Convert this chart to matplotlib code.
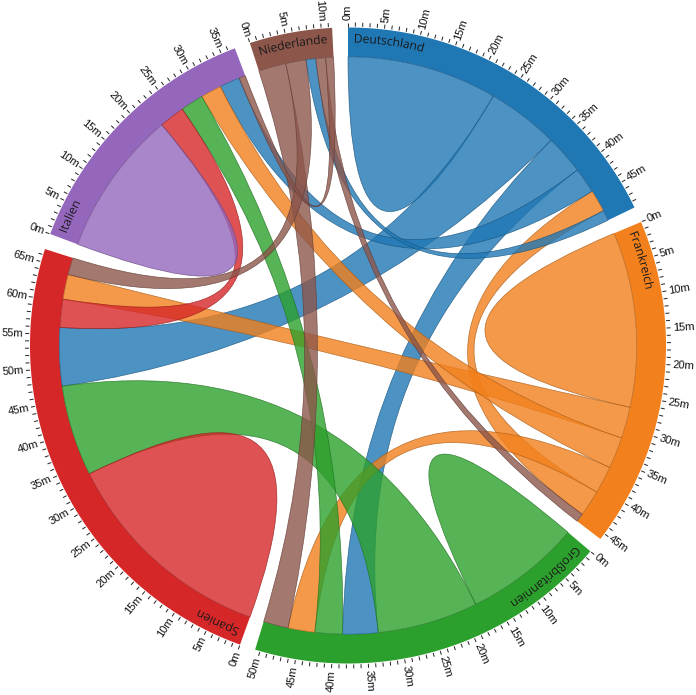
import numpy as np
import matplotlib
matplotlib.use("Agg")
import matplotlib.pyplot as plt
from matplotlib.path import Path
from matplotlib.patches import PathPatch
from matplotlib.collections import LineCollection
from matplotlib.textpath import TextPath
from matplotlib.font_manager import FontProperties
from matplotlib.colors import to_rgb

countries = ["Deutschland", "Frankreich", "Großbritannien", "Spanien", "Italien", "Niederlande"]
colors = ["#1f77b4", "#f2801c", "#2ca02c", "#d62728", "#9467bd", "#8c564b"]

# Werte in Millionen, Reihenfolge der Spalten wie countries
deutschland = [23.0, 3.4, 6.0, 11.0, 3.9, 1.6]
frankreich = [4.0, 26.8, 4.2, 4.8, 4.8, 1.3]
grossbritannien = [5.4, 4.1, 17.8, 15.4, 4.2, 3.8]
spanien = [8.9, 3.8, 13.9, 33.3, 4.3, 2.6]
italien = [3.1, 3.2, 3.5, 3.9, 22.3, 1.0]
niederlande = [1.5, 1.5, 4.2, 3.1, 1.2, 0.0]

matrix = np.array([deutschland, frankreich, grossbritannien, spanien, italien, niederlande])

R_OUT = 318.0
R_IN = 288.7
PAD = 0.05
CX, CY = 348.0, 345.5


def pt(r, a):
    return r * np.sin(a), r * np.cos(a)


def arc_pts(r, a0, a1):
    m = max(int(abs(a1 - a0) / 0.005), 2)
    t = np.linspace(a0, a1, m)
    return np.column_stack([r * np.sin(t), r * np.cos(t)])


def layout(mat):
    """Winkel der Gruppen und Untergruppen wie d3.layout.chord (absteigend sortiert)."""
    n = len(mat)
    k = (2 * np.pi - n * PAD) / mat.sum()
    sub, groups = {}, []
    x = 0.0
    for i in range(n):
        x0 = x
        for j in sorted(range(n), key=lambda j: -mat[i][j]):
            a0 = x
            x += mat[i][j] * k
            sub[(i, j)] = (a0, x)
        groups.append((x0, x))
        x += PAD
    return k, groups, sub


def ribbon(s, t, r):
    p = arc_pts(r, *s)
    verts = list(map(tuple, p))
    codes = [Path.MOVETO] + [Path.LINETO] * (len(p) - 1)
    if s == t:
        verts += [(0, 0), tuple(p[0])]
        codes += [Path.CURVE3] * 2
    else:
        q = arc_pts(r, *t)
        verts += [(0, 0), tuple(q[0])]
        codes += [Path.CURVE3] * 2
        verts += list(map(tuple, q[1:]))
        codes += [Path.LINETO] * (len(q) - 1)
        verts += [(0, 0), tuple(p[0])]
        codes += [Path.CURVE3] * 2
    verts.append(tuple(p[0]))
    codes.append(Path.CLOSEPOLY)
    return Path(verts, codes)


def darker(c, f=0.7):
    return tuple(v * f for v in to_rgb(c))


def curved_label(ax, text, a_start, r_base, size):
    tp = TextPath((0, 0), text, size=size, prop=FontProperties(family="Open Sans"))
    v = tp.vertices
    theta = a_start + v[:, 0] / r_base
    rad = r_base + v[:, 1]
    xy = np.column_stack([rad * np.sin(theta), rad * np.cos(theta)])
    ax.add_patch(PathPatch(Path(xy, tp.codes), facecolor="#1a1a1a", edgecolor="none", lw=0, zorder=5))


k, groups, sub = layout(matrix)
n = len(countries)

fig = plt.figure(figsize=(6.96, 6.95), dpi=100)
ax = fig.add_axes([0, 0, 1, 1])
ax.set_xlim(-CX, 696 - CX)
ax.set_ylim(-(695 - CY), CY)
ax.axis("off")

# Gruppenbögen
for i, (a0, a1) in enumerate(groups):
    outer = arc_pts(R_OUT, a0, a1)
    inner = arc_pts(R_IN, a1, a0)
    poly = np.vstack([outer, inner, outer[:1]])
    ax.add_patch(PathPatch(Path(poly, closed=True), facecolor=colors[i], edgecolor="none", zorder=2))

# Ticks und Beschriftung
segs = []
for i, (a0, a1) in enumerate(groups):
    for v in np.arange(0, matrix[i].sum(), 1):
        a = a0 + v * k
        segs.append([pt(R_OUT + 1, a), pt(R_OUT + 5, a)])
        if int(v) % 5 == 0:
            deg = np.degrees(a)
            x, y = pt(R_OUT + 7, a)
            if a > np.pi:
                ax.text(x, y, f"{int(v)}m", rotation=270 - deg, ha="right", va="center",
                        rotation_mode="anchor", fontsize=8, family="Liberation Sans", color="#111")
            else:
                ax.text(x, y, f"{int(v)}m", rotation=90 - deg, ha="left", va="center",
                        rotation_mode="anchor", fontsize=8, family="Liberation Sans", color="#111")
ax.add_collection(LineCollection(segs, colors="#222", linewidths=0.7, zorder=2))

# Sehnen
for i in range(n):
    for j in range(i, n):
        if matrix[i][j] == 0 and matrix[j][i] == 0:
            continue
        ci = i if matrix[i][j] > matrix[j][i] else j
        path = ribbon(sub[(i, j)], sub[(j, i)], R_IN)
        ax.add_patch(PathPatch(path, facecolor=to_rgb(colors[ci]) + (0.8,),
                               edgecolor=darker(colors[ci]) + (0.8,), lw=0.5, zorder=3))

# Gruppennamen entlang des Bogens
for i, (a0, a1) in enumerate(groups):
    curved_label(ax, countries[i], a0 + 6 / R_OUT, R_OUT - 15, 12)

fig.savefig("out.png", dpi=100)
